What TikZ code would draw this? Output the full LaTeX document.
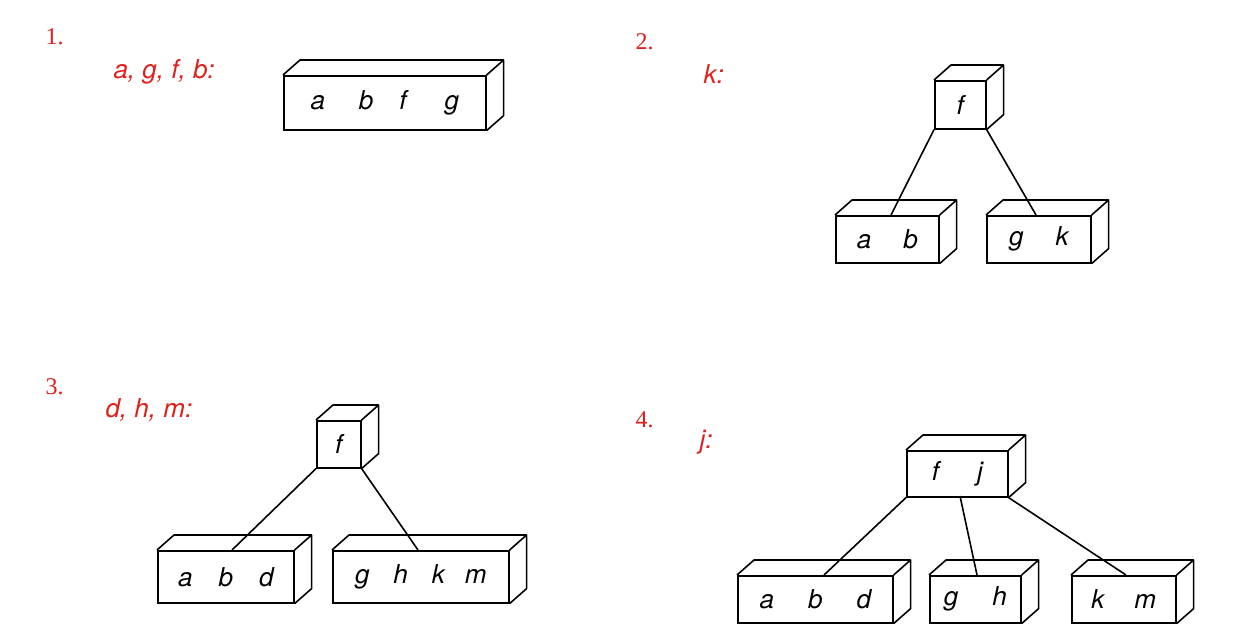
\documentclass[tikz,border=0pt]{standalone}
\usepackage{fontspec}
\setmainfont{Liberation Serif}
\setsansfont{TeX Gyre Heros}
\definecolor{lab}{RGB}{225,30,25}
\tikzset{x=1pt,y=-1pt,
 cube/.style={draw,line width=1.6pt,inner sep=0pt,anchor=north west,font=\fontsize{26}{30}\selectfont\sffamily\itshape},
 lnk/.style={line width=1.6pt},
 num/.style={text=lab,font=\fontsize{24}{28}\selectfont,anchor=west},
 keys/.style={text=lab,font=\fontsize{26}{30}\selectfont\sffamily\itshape,anchor=west}}
\newcommand\mycube[6]{%
 \node[cube,minimum width=#4-#2,minimum height=#5-#3] (#1) at (#2,#3) {#6};
 \draw[line width=1.6pt,line join=round] (#1.north west) -- ++(17,-15) -- ([shift={(17,-15)}]#1.north east) -- ([shift={(17,-15)}]#1.south east) -- (#1.south east)
 (#1.north east) -- ++(17,-15);}
\begin{document}
\begin{tikzpicture}
\useasboundingbox (0,0) rectangle (1252,636);
\node[num] (n1) at (42,37) {1.};
\node[keys] (k1) at (110,72) {a, g, f, b:};
\mycube{b1}{283}{75}{485}{129}{a\hspace{34pt}b\hspace{26pt}f\hspace{38pt}g}
\node[num] (n2) at (632,42) {2.};
\node[keys] (k2) at (700,74) {k:};
\mycube{c2}{934}{80}{985}{128}{f}
\mycube{l2}{835}{215}{938}{262}{a\hspace{32pt}b}
\mycube{r2}{986}{215}{1090}{262}{g\hspace{32pt}k}
\coordinate (p2a) at (891,215); \coordinate (p2b) at (1036,215);
\draw[lnk] (c2.south west) -- (p2a);
\draw[lnk] (c2.south east) -- (p2b);
\node[num] (n3) at (42,387) {3.};
\node[keys] (k3) at (102,410) {d, h, m:};
\mycube{c3}{316}{420}{360}{467}{f}
\mycube{l3}{157}{550}{293}{602}{a\hspace{26pt}b\hspace{26pt}d}
\mycube{r3}{332}{550}{508}{602}{g\hspace{24pt}h\hspace{24pt}k\hspace{20pt}m}
\coordinate (p3a) at (232,550); \coordinate (p3b) at (418,550);
\draw[lnk] (c3.south west) -- (p3a);
\draw[lnk] (c3.south east) -- (p3b);
\node[num] (n4) at (632,420) {4.};
\node[keys] (k4) at (696,442) {j:};
\mycube{c4}{906}{450}{1007}{496}{f\hspace{38pt}j}
\mycube{l4}{737}{575}{892}{622}{a\hspace{34pt}b\hspace{34pt}d}
\mycube{m4}{929}{575}{1020}{622}{g\hspace{34pt}h}
\mycube{r4}{1071}{575}{1175}{622}{k\hspace{30pt}m}
\coordinate (p4a) at (824,575); \coordinate (p4b) at (977,575); \coordinate (p4c) at (1126,575);
\coordinate (q4) at (960,496);
\draw[lnk] (c4.south west) -- (p4a);
\draw[lnk] (q4) -- (p4b);
\draw[lnk] (c4.south east) -- (p4c);
\end{tikzpicture}
\end{document}
